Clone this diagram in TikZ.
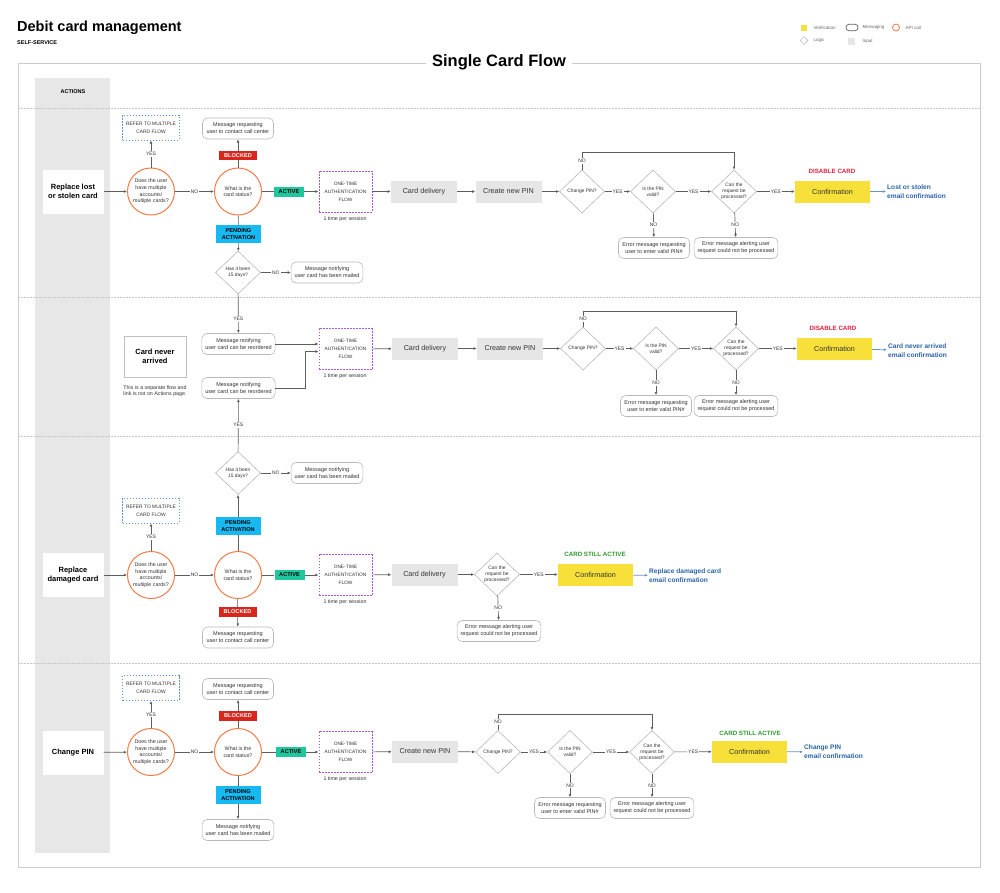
\documentclass[tikz,border=0pt]{standalone}
\usepackage{fontspec}
\setmainfont{Liberation Sans}
\usetikzlibrary{shapes.geometric,arrows.meta,calc}
\definecolor{apiorange}{HTML}{F47B45}
\definecolor{inputgray}{HTML}{E6E6E6}
\definecolor{colgray}{HTML}{E7E7E7}
\definecolor{veryellow}{HTML}{F8E03A}
\definecolor{actgreen}{HTML}{1FC79E}
\definecolor{pendblue}{HTML}{16B9F2}
\definecolor{blkred}{HTML}{D9261C}
\definecolor{otapurple}{HTML}{A855D6}
\definecolor{refblue}{HTML}{5A95D6}
\definecolor{mailblue}{HTML}{2A63A8}
\definecolor{disred}{HTML}{E0213F}
\definecolor{stillgreen}{HTML}{2E9B2E}
\definecolor{linegray}{HTML}{5E5E5E}
\definecolor{txtgray}{HTML}{333333}
\begin{document}
\begin{tikzpicture}[x=1pt,y=-1pt,
  every node/.style={text=txtgray},
  small/.style={font=\fontsize{5.5}{7}\selectfont},
  msg/.style={small, draw=gray!55, line width=0.6pt, rounded corners=5pt, minimum width=71pt, minimum height=21pt, align=center, inner xsep=3.5pt, inner ysep=1pt, fill=white},
  inputbox/.style={fill=inputgray, minimum width=66pt, minimum height=22pt, font=\fontsize{7.2}{8}\selectfont},
  confbox/.style={fill=veryellow, minimum width=75pt, minimum height=22pt, font=\fontsize{7.2}{8}\selectfont},
  api/.style={circle, draw=apiorange, line width=1pt, minimum size=47pt, inner sep=0pt, align=center, font=\fontsize{5.3}{6.6}\selectfont, fill=white},
  logic/.style={diamond, draw=gray!55, line width=0.6pt, minimum width=45pt, minimum height=43pt, inner sep=0pt, align=center, font=\fontsize{4.9}{6.2}\selectfont, fill=white},
  refer/.style={draw=refblue, dash pattern=on 1.6pt off 1.4pt, line width=0.7pt, minimum width=56pt, minimum height=25pt, align=center, font=\fontsize{4.9}{8}\selectfont},
  ota/.style={draw=otapurple, dash pattern=on 1.6pt off 1.4pt, line width=0.8pt, minimum width=53pt, minimum height=41pt, align=center, font=\fontsize{4.8}{8}\selectfont},
  note/.style={font=\fontsize{5.3}{6.2}\selectfont, align=center},
  action/.style={fill=white, minimum width=61pt, minimum height=44pt, align=center, font=\bfseries\fontsize{7.5}{9.3}\selectfont, text=black},
  never/.style={fill=white, draw=gray!50, line width=0.6pt, minimum width=62pt, minimum height=41pt, align=center, font=\bfseries\fontsize{7.5}{9.3}\selectfont, text=black},
  tag/.style={font=\bfseries\fontsize{5.6}{7.2}\selectfont, inner xsep=2pt, inner ysep=1.2pt, align=center, text=black},
  blocked/.style={tag, fill=blkred, text=white, minimum width=38pt, minimum height=9.5pt},
  active/.style={tag, fill=actgreen, minimum width=30pt, minimum height=10pt},
  pending/.style={tag, fill=pendblue, minimum width=45pt, minimum height=18pt},
  disable/.style={font=\bfseries\fontsize{6.2}{7}\selectfont, text=disred},
  still/.style={font=\bfseries\fontsize{6.2}{7}\selectfont, text=stillgreen},
  mail/.style={anchor=west, align=left, font=\bfseries\fontsize{6.6}{9.2}\selectfont, text=mailblue, inner sep=1pt},
  ln/.style={draw=linegray, line width=0.65pt},
  arr/.style={ln, -{Latex[length=3.2pt,width=2.8pt]}},
  mailarr/.style={draw=mailblue!70, line width=0.7pt, -{Latex[length=3.2pt,width=2.8pt]}},
  lab/.style={font=\fontsize{5}{5.5}\selectfont, fill=white, inner sep=1pt},
  legtxt/.style={anchor=west, font=\fontsize{4.5}{5}\selectfont, text=gray!80!black}
]
\useasboundingbox (0,0) rectangle (1000,892);
\fill[white] (0,0) rectangle (1000,892);

% header
\node[anchor=west, font=\bfseries\fontsize{14.5}{16}\selectfont, text=black, inner sep=0pt] (title) at (17,28) {Debit card management};
\node[anchor=west, font=\bfseries\fontsize{5.5}{6}\selectfont, text=black, inner sep=0pt] (sub) at (17,43) {SELF-SERVICE};

% legend
\node[fill=veryellow, minimum size=6pt, inner sep=0pt] (lgv) at (804,27.5) {};
\node[legtxt] (lgvt) at (810,27.5) {Verification};
\node[draw=gray!75!black, line width=0.7pt, rounded corners=3pt, minimum width=12pt, minimum height=6.5pt, inner sep=0pt] (lgm) at (852,27.5) {};
\node[legtxt] (lgmt) at (859,27.5) {Messaging};
\node[circle, draw=apiorange, line width=0.8pt, minimum size=7pt, inner sep=0pt] (lga) at (896,27.5) {};
\node[legtxt] (lgat) at (902,27.5) {API call};
\node[diamond, draw=gray!60, line width=0.5pt, minimum size=8pt, inner sep=0pt] (lgl) at (804,40.5) {};
\node[legtxt] (lglt) at (810,40.5) {Logic};
\node[fill=inputgray, minimum size=7pt, inner sep=0pt] (lgi) at (851,41) {};
\node[legtxt] (lgit) at (859,41) {Input};

% frame and column
\draw[gray!40, line width=0.8pt] (18,63) rectangle (980,867);
\fill[colgray] (35,78) rectangle (110,853);
\node[font=\bfseries\fontsize{5.5}{6}\selectfont, text=black] (acts) at (73,92) {ACTIONS};
\foreach \yy in {108,297.5,436,663}
  \draw[gray!45, dash pattern=on 1.5pt off 1.5pt, line width=0.6pt] (18,\yy) -- (980,\yy);
\node[fill=white, font=\bfseries\fontsize{16.5}{18}\selectfont, text=black, inner xsep=6pt] (main) at (499,62) {Single Card Flow};

% ================= ROW 1 =================
\node[action] (r1a) at (73,191.5) {Replace lost\\or stolen card};
\node[api] (r1c1) at (151,191.5) {Does the user\\have multiple\\accounts/\\multiple cards?};
\node[refer] (r1ref) at (151,127.5) {REFER TO MULTIPLE\\CARD FLOW};
\node[api] (r1c2) at (238,191.5) {What is the\\card status?};
\node[blocked] (r1blk) at (238,155.5) {BLOCKED};
\node[msg] (r1m1) at (238,128.5) {Message requesting\\user to contact call center};
\node[active] (r1act) at (289,191.5) {ACTIVE};
\node[ota] (r1ota) at (345.5,191.5) {ONE-TIME\\AUTHENTICATION\\FLOW};
\node[note] (r1n) at (345,219) {1 time per session};
\node[pending] (r1pend) at (238.5,234) {PENDING\\ACTIVATION};
\node[logic] (r1d15) at (238,272.5) {Has it been\\15 days?};
\node[msg] (r1m2) at (327,272.5) {Message notifying\\user card has been mailed};
\node[inputbox] (r1cd) at (424,191.5) {Card delivery};
\node[inputbox] (r1pin) at (508.5,191.5) {Create new PIN};
\node[logic] (r1chg) at (582,191.5) {Change PIN?};
\node[logic] (r1val) at (653,191.5) {Is the PIN\\valid?};
\node[msg] (r1e1) at (654,248) {Error message requesting\\user to enter valid PIN\#};
\node[logic] (r1can) at (734,191.5) {Can the\\request be\\processed?};
\node[msg] (r1e2) at (736,248) {Error message alerting user\\request could not be processed};
\node[confbox] (r1conf) at (832.5,191.5) {Confirmation};
\node[disable] (r1dis) at (832,171) {DISABLE CARD};
\node[mail] (r1mail) at (886,191.5) {Lost or stolen\\email confirmation};

\draw[arr] (r1a) -- (r1c1);
\draw[arr] (r1c1) -- node[lab]{YES} (r1ref);
\draw[arr] (r1c1) -- node[lab]{NO} (r1c2);
\draw[ln] (r1c2) -- (r1blk);
\draw[arr] (r1blk) -- (r1m1);
\draw[ln] (r1c2) -- (r1act);
\draw[arr] (r1act) -- (r1ota);
\draw[ln] (r1c2) -- (r1pend);
\draw[arr] (r1pend) -- (r1d15);
\draw[arr] (r1d15) -- node[lab]{NO} (r1m2);
\draw[arr] (r1ota) -- (r1cd);
\draw[arr] (r1cd) -- (r1pin);
\draw[arr] (r1pin) -- (r1chg);
\draw[arr] (r1chg) -- node[lab]{YES} (r1val);
\draw[arr] (r1val) -- node[lab]{NO} (r1e1);
\draw[arr] (r1val) -- node[lab]{YES} (r1can);
\draw[arr] (r1can) -- node[lab]{NO} (r1e2);
\draw[arr] (r1can) -- node[lab]{YES} (r1conf);
\draw[mailarr] (r1conf) -- (r1mail);
\draw[arr] (r1chg.north) -- node[lab]{NO} ++(0,-17) -| (r1can.north);

% ================= ROW 2 =================
\node[msg] (r2m1) at (238.5,344) {Message notifying\\user card can be reordered};
\node[msg] (r2m2) at (238.5,388) {Message notifying\\user card can be reordered};
\node[never] (r2a) at (155,356.5) {Card never\\arrived};
\node[note] (r2n2) at (155,391) {This is a separate flow and\\link is not on Actions page.};
\node[ota] (r2ota) at (345.5,349) {ONE-TIME\\AUTHENTICATION\\FLOW};
\node[note] (r2n) at (345,376) {1 time per session};
\node[inputbox] (r2cd) at (425,348.5) {Card delivery};
\node[inputbox] (r2pin) at (510,348.5) {Create new PIN};
\node[logic] (r2chg) at (583,348.5) {Change PIN?};
\node[logic] (r2val) at (656,348.5) {Is the PIN\\valid?};
\node[msg] (r2e1) at (656,406) {Error message requesting\\user to enter valid PIN\#};
\node[logic] (r2can) at (736,348.5) {Can the\\request be\\processed?};
\node[msg] (r2e2) at (736,406) {Error message alerting user\\request could not be processed};
\node[confbox] (r2conf) at (834.5,348.5) {Confirmation};
\node[disable] (r2dis) at (833,328) {DISABLE CARD};
\node[mail] (r2mail) at (887,350.5) {Card never arrived\\email confirmation};

\draw[arr] (r1d15) -- node[lab, pos=0.64]{YES} (r2m1);
\draw[arr] (r2m1.east) -- (r2m1.east -| r2ota.west);
\draw[arr] (r2m2.east) -- ++(30,0) |- ($(r2ota.west)+(0,2.5)$);
\draw[arr] (r2ota) -- (r2cd);
\draw[arr] (r2cd) -- (r2pin);
\draw[arr] (r2pin) -- (r2chg);
\draw[arr] (r2chg) -- node[lab]{YES} (r2val);
\draw[arr] (r2val) -- node[lab]{NO} (r2e1);
\draw[arr] (r2val) -- node[lab]{YES} (r2can);
\draw[arr] (r2can) -- node[lab]{NO} (r2e2);
\draw[arr] (r2can) -- node[lab]{YES} (r2conf);
\draw[mailarr] (r2conf) -- (r2mail);
\draw[arr] (r2chg.north) -- node[lab]{NO} ++(0,-15) -| (r2can.north);

% ================= ROW 3 =================
\node[action] (r3a) at (73,575) {Replace\\damaged card};
\node[api] (r3c1) at (151,575) {Does the user\\have multiple\\accounts/\\multiple cards?};
\node[refer] (r3ref) at (151,510.5) {REFER TO MULTIPLE\\CARD FLOW};
\node[api] (r3c2) at (238,575) {What is the\\card status?};
\node[pending] (r3pend) at (238,526) {PENDING\\ACTIVATION};
\node[logic] (r3d15) at (238,473) {Has it been\\15 days?};
\node[msg] (r3m2) at (327,473) {Message notifying\\user card has been mailed};
\node[blocked] (r3blk) at (237.5,612) {BLOCKED};
\node[msg] (r3m1) at (238,637.5) {Message requesting\\user to contact call center};
\node[active] (r3act) at (289.5,575) {ACTIVE};
\node[ota] (r3ota) at (345.5,575) {ONE-TIME\\AUTHENTICATION\\FLOW};
\node[note] (r3n) at (345,602) {1 time per session};
\node[inputbox] (r3cd) at (424.5,574.5) {Card delivery};
\node[logic] (r3can) at (497,574.5) {Can the\\request be\\processed?};
\node[msg] (r3e) at (499,631) {Error message alerting user\\request could not be processed};
\node[confbox] (r3conf) at (595.5,574.5) {Confirmation};
\node[still] (r3st) at (595,554) {CARD STILL ACTIVE};
\node[mail] (r3mail) at (648,576) {Replace damaged card\\email confirmation};

\draw[arr] (r3a) -- (r3c1);
\draw[arr] (r3c1) -- node[lab]{YES} (r3ref);
\draw[arr] (r3c1) -- node[lab]{NO} (r3c2);
\draw[ln] (r3c2) -- (r3pend);
\draw[arr] (r3pend) -- (r3d15);
\draw[arr] (r3d15) -- node[lab]{NO} (r3m2);
\draw[arr] (r3d15) -- node[lab]{YES} (r2m2);
\draw[ln] (r3c2) -- (r3blk);
\draw[arr] (r3blk) -- (r3m1);
\draw[ln] (r3c2) -- (r3act);
\draw[arr] (r3act) -- (r3ota);
\draw[arr] (r3ota) -- (r3cd);
\draw[arr] (r3cd) -- (r3can);
\draw[arr] (r3can) -- node[lab]{NO} (r3e);
\draw[arr] (r3can) -- node[lab]{YES} (r3conf);
\draw[mailarr] (r3conf) -- (r3mail);

% ================= ROW 4 =================
\node[action] (r4a) at (73,752.5) {Change PIN};
\node[api] (r4c1) at (151,752) {Does the user\\have multiple\\accounts/\\multiple cards?};
\node[refer] (r4ref) at (151,688) {REFER TO MULTIPLE\\CARD FLOW};
\node[api] (r4c2) at (238,752) {What is the\\card status?};
\node[msg] (r4m1) at (238,689) {Message requesting\\user to contact call center};
\node[blocked] (r4blk) at (238,716) {BLOCKED};
\node[active] (r4act) at (291,752) {ACTIVE};
\node[ota] (r4ota) at (345.5,752) {ONE-TIME\\AUTHENTICATION\\FLOW};
\node[note] (r4n) at (345,779) {1 time per session};
\node[pending] (r4pend) at (238,795) {PENDING\\ACTIVATION};
\node[msg] (r4m2) at (238,830) {Message notifying\\user card has been mailed};
\node[inputbox] (r4pin) at (425,751.5) {Create new PIN};
\node[logic] (r4chg) at (498,752) {Change PIN?};
\node[logic] (r4val) at (570,752) {Is the PIN\\valid?};
\node[msg] (r4e1) at (570,808) {Error message requesting\\user to enter valid PIN\#};
\node[logic] (r4can) at (652,752) {Can the\\request be\\processed?};
\node[msg] (r4e2) at (652,808) {Error message alerting user\\request could not be processed};
\node[confbox] (r4conf) at (749.5,751.5) {Confirmation};
\node[still] (r4st) at (750,733) {CARD STILL ACTIVE};
\node[mail] (r4mail) at (803,752) {Change PIN\\email confirmation};

\draw[arr] (r4a) -- (r4c1);
\draw[arr] (r4c1) -- node[lab]{YES} (r4ref);
\draw[arr] (r4c1) -- node[lab]{NO} (r4c2);
\draw[ln] (r4c2) -- (r4blk);
\draw[arr] (r4blk) -- (r4m1);
\draw[ln] (r4c2) -- (r4act);
\draw[arr] (r4act) -- (r4ota);
\draw[ln] (r4c2) -- (r4pend);
\draw[arr] (r4pend) -- (r4m2);
\draw[arr] (r4ota) -- (r4pin);
\draw[arr] (r4pin) -- (r4chg);
\draw[arr] (r4chg) -- node[lab]{YES} (r4val);
\draw[arr] (r4val) -- node[lab]{NO} (r4e1);
\draw[arr] (r4val) -- node[lab]{YES} (r4can);
\draw[arr] (r4can) -- node[lab]{NO} (r4e2);
\draw[arr] (r4can) -- node[lab]{YES} (r4conf);
\draw[mailarr] (r4conf) -- (r4mail);
\draw[arr] (r4chg.north) -- node[lab]{NO} ++(0,-16) -| (r4can.north);
\end{tikzpicture}
\end{document}
